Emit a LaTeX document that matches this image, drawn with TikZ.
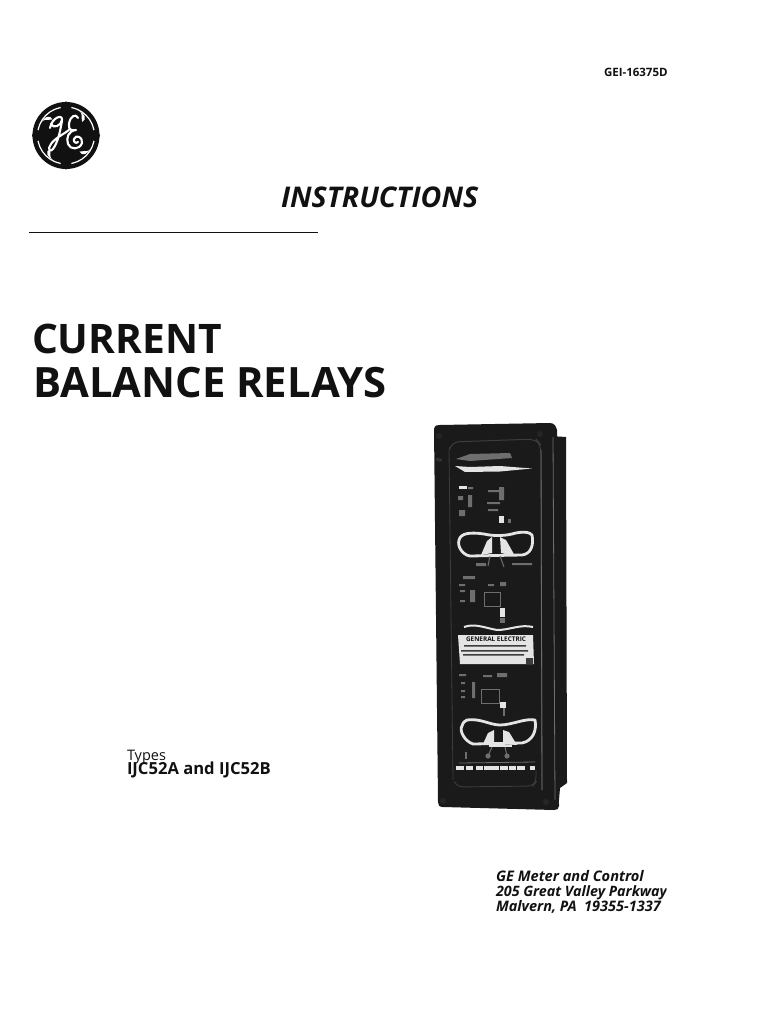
\documentclass[tikz,border=0pt]{standalone}
\usepackage{fontspec}
\setmainfont{Open Sans}
\definecolor{ink}{HTML}{111111}
\definecolor{body}{HTML}{1A1A1A}
\definecolor{bodyb}{HTML}{262626}
\definecolor{hi}{HTML}{E4E4E4}
\definecolor{mid}{HTML}{6E6E6E}
\definecolor{faint}{HTML}{3C3C3C}
\tikzset{
 txt/.style={anchor=base west,inner sep=0pt,outer sep=0pt,text=ink,font=\bfseries},
 glass/.style={draw=hi,line width=2.8pt,line join=round,fill=black!90},
 wedge/.style={fill=hi,draw=none},
 detail/.style={fill=mid,draw=none},
 logoline/.style={draw=white,line width=2.1pt,line cap=round,line join=round},
 tab/.style={fill=hi,draw=none}
}
\begin{document}
\begin{tikzpicture}[x=1pt,y=-1pt]
\useasboundingbox[fill=white] (0,0) rectangle (768,1024);
% header
\node[txt,font=\bfseries\fontsize{11.5}{13}\selectfont] (docno) at (604,76.5) {GEI-16375D};
\node[txt,font=\bfseries\itshape\fontsize{28.5}{32}\selectfont] (instr) at (281,208) {INSTRUCTIONS};
\draw[ink,line width=1pt] (29,233) -- (318,233);
\node[txt,font=\bfseries\fontsize{40.7}{46}\selectfont] (t1) at (32,353) {CURRENT};
\node[txt,font=\bfseries\fontsize{41.8}{46}\selectfont] (t2) at (33,397) {BALANCE RELAYS};
\node[txt,font=\fontsize{14.5}{17}\selectfont] (types) at (127,760) {Types};
\node[txt,font=\bfseries\fontsize{16.6}{19}\selectfont] (models) at (127,774) {IJC52A and IJC52B};
\node[txt,font=\bfseries\itshape\fontsize{14.6}{17}\selectfont] (a1) at (496,881) {GE Meter and Control};
\node[txt,font=\bfseries\itshape\fontsize{14.3}{17}\selectfont] (a2) at (496,896.5) {205 Great Valley Parkway};
\node[txt,font=\bfseries\itshape\fontsize{14.5}{17}\selectfont] (a3) at (496,911) {Malvern, PA\ \ 19355-1337};
\fill[white] (668,60) rectangle (690,85) (666.5,880) rectangle (700,915);
% logo
\fill[ink] (66,135.5) circle (33.5);
\draw[white,line width=1.2pt] (66,135.5) circle (28.5);
\fill[ink] (66,107) circle (5.5) (66,164) circle (5.5) (37.5,135.5) circle (5.5) (94.5,135.5) circle (5.5);
\foreach \a in {40,130,220,310}{
 \fill[white,rotate around={\a:(66,135.5)}] (87,135.5) .. controls (90,130) and (93,130) .. (92,125) .. controls (94,131) and (93,137) .. (87,135.5) -- cycle;
}
% G
\draw[logoline] (50,128) .. controls (52,117) and (63,114) .. (62,120) .. controls (61,126) and (53,129) .. (51,124);
\draw[logoline] (62,121) .. controls (60,132) and (58,142) .. (53,149) .. controls (50,153) and (47,149) .. (51,144) .. controls (55,138) and (64,134) .. (69,130);
% E
\draw[logoline] (78,118) .. controls (76,113) and (70,116) .. (69,124) .. controls (68,130) and (72,131) .. (76,130) .. controls (68,131) and (66,138) .. (68,144) .. controls (70,150) and (80,150) .. (82,143) .. controls (83,137) and (76,134) .. (74,139) .. controls (73,142) and (76,144) .. (78,142);
% relay: rear panel
\fill[body] (550,436) -- (566,437) -- (567,783) -- (560,788) -- (559,800) -- (550,800) -- cycle;
% relay: front
\fill[body] (434,429) .. controls (435,425) and (437,425) .. (440,425) -- (550,423) .. controls (554,423) and (556,426) .. (557,430) -- (559,806) .. controls (559,809) and (557,810) .. (554,810) -- (443,807) .. controls (439,807) and (438,805) .. (438,802) -- cycle;
\fill[bodyb] (439,436) circle (3) (540,434) circle (3) (443,801) circle (3) (546,802) circle (3);
% inner frame and edge lines
\draw[faint,line width=1pt,rounded corners=8pt] (450,447) -- (451,442) -- (536,439) -- (541,445) -- (542,790);
\draw[faint,line width=.9pt,rounded corners=6pt] (455,783) -- (457,787) -- (533,786) -- (536,782) -- (536,770);
\draw[mid,line width=.8pt] (541,450) -- (542,790);
\draw[mid,line width=.8pt] (553,437) -- (555,800);
\draw[faint,line width=.8pt] (449,450) -- (453,780);
\draw[faint,line width=1pt] (442,460) .. controls (434,456) and (436,462) .. (441,461);
% top highlights
\fill[mid] (456,459) -- (470,454) -- (510,453) -- (512,458) -- (470,461) -- cycle;
\fill[hi] (455,466) -- (470,467) -- (500,466) -- (532,468.5) -- (500,471.5) -- (465,472) -- cycle;
% upper element details
\fill[hi] (459,486) rectangle (467,489);
\fill[detail] (468,487) rectangle (473,489) (458,496) rectangle (463,500) (468,495) rectangle (472,507) (459,510) rectangle (465,516);
\fill[detail] (488,490) rectangle (504,492) (487,502) rectangle (500,504) (488,509) rectangle (498,511) (499,487) rectangle (504,500);
\fill[hi] (499,516) rectangle (504,523);
\fill[detail] (508,519) rectangle (511,523);
% upper glasses
\draw[glass] (459,540) .. controls (461,533) and (470,532) .. (484,534) .. controls (492,536) and (504,536) .. (512,534) .. controls (522,531) and (530,532) .. (532,535) .. controls (534,545) and (531,554) .. (522,555) -- (470,556) .. controls (463,555) and (457,547) .. (459,540) -- cycle;
\fill[wedge] (481,555) -- (487,541) -- (492,537) -- (492,553) -- cycle;
\fill[wedge] (501,553) -- (500,537) -- (506,540) -- (515,556) -- cycle;
\fill[detail] (476,563) rectangle (486,566) (512,563) rectangle (532,565);
\draw[mid,line width=1pt] (490,556) -- (488,566) (500,556) -- (504,567);
% middle element details
\fill[detail] (463,576) rectangle (475,579) (459,584) rectangle (465,586) (460,590) rectangle (465,592) (460,600) rectangle (465,602) (470,590) rectangle (475,602) (488,584) rectangle (494,586) (500,582) rectangle (506,586);
\draw[mid,line width=.6pt] (484,592) rectangle (500,606);
\fill[hi] (500,608) rectangle (505,617);
\fill[detail] (500,618) rectangle (505,623);
% nameplate
\draw[hi,line width=2pt] (464,627) .. controls (475,623) and (485,628) .. (497,630) .. controls (510,630) and (520,624) .. (533,627);
\fill[hi] (458,635) -- (533,635) -- (534,664) -- (460,664) -- cycle;
\node[inner sep=0pt,font=\bfseries\fontsize{6.4}{7}\selectfont,text=ink] (plate) at (496,639) {GENERAL ELECTRIC};
\fill[faint] (464,645) rectangle (526,646.5) (461,650) rectangle (528,651.5) (463,654) rectangle (524,655.5) (526,658) rectangle (533,664);
% lower element details
\fill[detail] (459,674) rectangle (466,676) (461,682) rectangle (465,684) (461,690) rectangle (465,692) (461,696) rectangle (465,698) (472,682) rectangle (475,698) (483,675) rectangle (492,677) (497,673) rectangle (507,677);
\draw[mid,line width=.6pt] (481,689) rectangle (499,703);
\fill[hi] (500,702) rectangle (506,708);
\fill[detail] (503,708) rectangle (505,716);
% lower glasses
\draw[glass] (467,720) .. controls (480,718) and (490,725) .. (500,725) .. controls (512,725) and (525,718) .. (535,720) .. controls (537,730) and (533,741) .. (522,743) -- (473,744) .. controls (464,741) and (459,730) .. (462,726) .. controls (463,722) and (465,721) .. (467,720) -- cycle;
\fill[wedge] (483,744) -- (488,733) -- (494,730) -- (494,744) -- cycle;
\fill[wedge] (503,744) -- (503,730) -- (509,732) -- (517,745) -- cycle;
\fill[hi] (489,745) rectangle (512,747);
\draw[mid,line width=1pt] (492,747) -- (488,756) (505,747) -- (507,756);
\fill[mid] (488,756) circle (2.6) (507,756) circle (2.6);
\fill[detail] (465,752) rectangle (466.5,759);
% terminal strip
\draw[mid,line width=.8pt] (459,763) -- (535,762);
\foreach \x/\w in {456/8,466/7,476/7,484/8,492/7,500/8,509/7,517/8,530/5}{
 \fill[tab] (\x,766) rectangle ++(\w,4);
}
\end{tikzpicture}
\end{document}
